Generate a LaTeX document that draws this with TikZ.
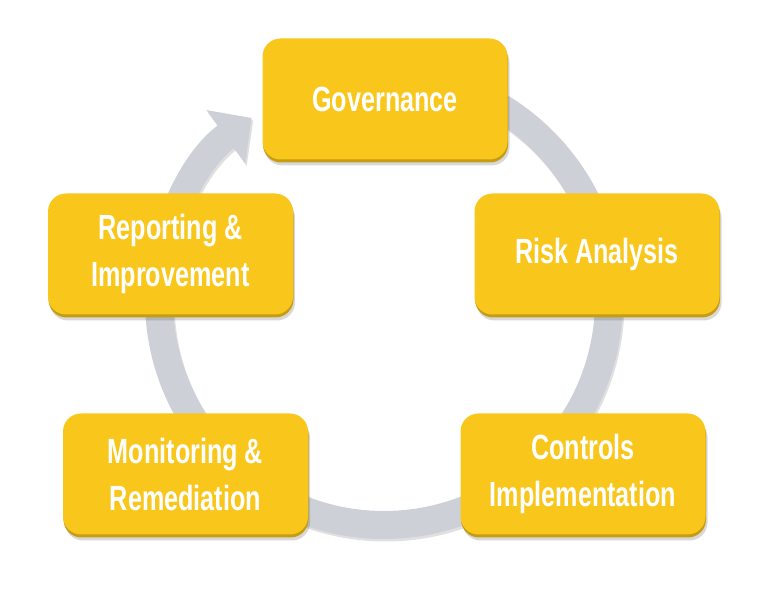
\documentclass[tikz,border=0pt]{standalone}
\usepackage{fontspec}
\newfontfamily\stagefont{Liberation Sans}[FakeStretch=0.72]
\usetikzlibrary{arrows.meta,shadows}
\definecolor{boxyellow}{HTML}{F9C61B}
\definecolor{boxedge}{HTML}{C59C12}
\definecolor{ringgray}{HTML}{CDD0D6}
\tikzset{
  stage/.style={rounded corners=18pt, minimum width=245pt, minimum height=121pt,
    inner sep=0pt, fill=boxyellow, text=white, align=center,
    font=\stagefont\bfseries\fontsize{35}{47}\selectfont,
    drop shadow={shadow xshift=2pt, shadow yshift=-6pt, opacity=0.22, fill=black!70},
    drop shadow={shadow xshift=0.5pt, shadow yshift=-3pt, opacity=1, fill=boxedge}},
  ring/.style={draw=ringgray, line width=28pt, -{Triangle[length=32pt,width=64pt]}}
}
\begin{document}
\begin{tikzpicture}[x=1pt,y=1pt]
\useasboundingbox (0,0) rectangle (768,594);
\coordinate (hub) at (384,294);
% the cycle ring, with its shadow
\draw[ring, draw=black!40, opacity=0.3] ([shift={(91:225)}]hub) ++(1.5,-2.5)
    arc[start angle=91, end angle=-234, radius=225];
\draw[ring] ([shift={(91:225)}]hub)
    arc[start angle=91, end angle=-234, radius=225];
% stages
\node[stage] (gov) at (385,495) {Governance};
\node[stage] (risk) at (597,340) {Risk Analysis};
\node[stage] (ctrl) at (583,120) {Controls\\Implementation};
\node[stage] (mon) at (185.5,120) {Monitoring \&\\Remediation};
\node[stage] (rep) at (170.5,340) {Reporting \&\\Improvement};
\end{tikzpicture}
\end{document}
